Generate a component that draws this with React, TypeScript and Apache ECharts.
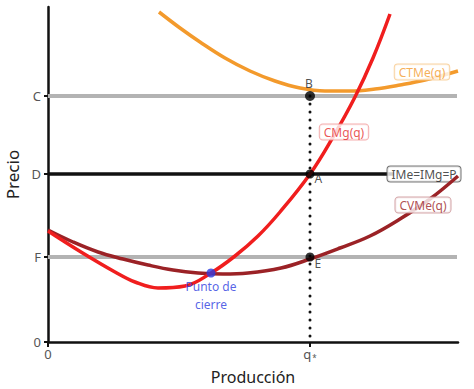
import React, { useEffect, useRef } from "react";
import * as echarts from "echarts";

// Data units: x = quantity (0..410), y = price (0..335)
const yTickValues = [0, 85, 168, 246];
const yTickLabels = ["0", "F", "D", "C"];
const xTickValues = [0, 262];
const xTickLabels = ["0", "{q|q}{s|*}"];

const priceC = 246;
const priceD = 168;
const priceF = 85;
const qStar = 262;

const cmgX = [0, 33, 67, 87, 110, 137, 163, 187, 210, 232, 262, 285, 307, 325, 342];
const cmgY = [111, 90, 70, 60, 54, 56, 69, 86, 106, 130, 168, 205, 245, 284, 328];

const cvmeX = [0, 25, 50, 75, 100, 125, 150, 175, 200, 233, 262, 292, 322, 352, 382, 410];
const cvmeY = [112, 100, 90, 83, 77, 72, 69, 68, 69, 74, 83, 94, 106, 123, 143, 166];

const ctmeX = [111, 132, 152, 177, 202, 227, 252, 277, 302, 327, 352, 377, 410];
const ctmeY = [330, 314, 300, 284, 271, 261, 254, 251, 251, 253, 257, 262, 271];

const shutdownPoint = [163, 69];
const xMax = 410;
const yMax = 335;

const zip = (xs: number[], ys: number[]) => xs.map((x, i) => [x, ys[i]]);

const FONT = "Noto Sans";

function boxLabel(text: string, color: string, border: string) {
  return {
    show: true,
    position: "inside",
    formatter: text,
    color,
    fontFamily: FONT,
    fontSize: 12,
    backgroundColor: "#fff",
    borderColor: border,
    borderWidth: 1,
    borderRadius: 3,
    padding: [2, 4, 1, 4],
  };
}

export default function App() {
  const ref = useRef<HTMLDivElement>(null);
  useEffect(() => {
    if (!ref.current) return;
    const chart = echarts.init(ref.current, null, { renderer: "svg" });
    const option: any = {
      animation: false,
      grid: { left: 48, right: 16, top: 7, bottom: 47, containLabel: false, outerBoundsMode: "none" },
      xAxis: {
        type: "value",
        min: 0,
        max: xMax,
        name: "Producción",
        nameLocation: "middle",
        nameGap: 27,
        nameTextStyle: { fontFamily: FONT, fontSize: 16, color: "#222" },
        axisLine: { show: true, lineStyle: { color: "#111", width: 2.5 } },
        axisTick: { show: true, customValues: xTickValues, length: 5, lineStyle: { color: "#111", width: 2 } },
        axisLabel: {
          customValues: xTickValues,
          formatter: (v: number) => xTickLabels[xTickValues.indexOf(v)] ?? "",
          color: "#555",
          fontFamily: FONT,
          fontSize: 13,
          margin: 5,
          rich: {
            q: { fontFamily: FONT, fontSize: 13, color: "#555" },
            s: { fontFamily: FONT, fontSize: 8, color: "#555", padding: [6, 0, 0, 1] },
          },
        },
        splitLine: { show: false },
      },
      yAxis: {
        type: "value",
        min: 0,
        max: yMax,
        name: "Precio",
        nameLocation: "middle",
        nameGap: 22,
        nameRotate: 90,
        nameTextStyle: { fontFamily: FONT, fontSize: 17, color: "#222" },
        axisLine: { show: true, lineStyle: { color: "#111", width: 2.5 } },
        axisTick: { show: true, customValues: yTickValues, length: 4, lineStyle: { color: "#111", width: 2 } },
        axisLabel: {
          customValues: yTickValues,
          formatter: (v: number) => yTickLabels[yTickValues.indexOf(v)] ?? "",
          color: "#555",
          fontFamily: FONT,
          fontSize: 13,
          margin: 7,
        },
        splitLine: { show: false },
      },
      series: [
        {
          type: "line",
          data: [[0, priceC], [xMax - 1, priceC]],
          symbol: "none",
          lineStyle: { color: "#b3b3b3", width: 4 },
          z: 1,
        },
        {
          type: "line",
          data: [[0, priceF], [xMax - 1, priceF]],
          symbol: "none",
          lineStyle: { color: "#b3b3b3", width: 4 },
          z: 1,
        },
        {
          type: "line",
          data: [[0, priceD], [346, priceD]],
          symbol: "none",
          lineStyle: { color: "#111", width: 3.5 },
          z: 2,
        },
        {
          type: "scatter",
          data: [[376, priceD]],
          symbolSize: 0,
          label: boxLabel("IMe=IMg=P", "#222", "#555"),
          z: 2,
        },
        {
          type: "line",
          data: [[qStar, priceC], [qStar, 0]],
          symbol: "none",
          lineStyle: { color: "#111", width: 3, type: [0, 8], cap: "round" },
          z: 2,
        },
        {
          type: "line",
          data: zip(ctmeX, ctmeY),
          smooth: 0.4,
          symbol: "none",
          lineStyle: { color: "#f39a2c", width: 3.5 },
          z: 3,
        },
        {
          type: "line",
          data: zip(cvmeX, cvmeY),
          smooth: 0.4,
          symbol: "none",
          lineStyle: { color: "#9b2226", width: 3.5 },
          z: 4,
        },
        {
          type: "line",
          data: zip(cmgX, cmgY),
          smooth: 0.4,
          symbol: "none",
          lineStyle: { color: "#f01e1e", width: 3.5 },
          z: 4,
        },
        {
          type: "scatter",
          data: [[374, 270]],
          symbolSize: 0,
          label: boxLabel("CTMe(q)", "#f39a2c", "#f7c88a"),
          z: 5,
        },
        {
          type: "scatter",
          data: [[296, 210]],
          symbolSize: 0,
          label: boxLabel("CMg(q)", "#e52b2b", "#f19a9a"),
          z: 5,
        },
        {
          type: "scatter",
          data: [[375, 137]],
          symbolSize: 0,
          label: boxLabel("CVMe(q)", "#9b2226", "#c98f92"),
          z: 5,
        },
        {
          type: "scatter",
          data: [[qStar, priceC]],
          symbolSize: 10,
          itemStyle: { color: "#000" },
          label: { show: true, formatter: "B", position: [0, -14], color: "#222", fontFamily: FONT, fontSize: 12 },
          z: 6,
        },
        {
          type: "scatter",
          data: [[qStar, priceD]],
          symbolSize: 9,
          itemStyle: { color: "#000" },
          label: { show: true, formatter: "A", position: [9, 3], color: "#222", fontFamily: FONT, fontSize: 12 },
          z: 6,
        },
        {
          type: "scatter",
          data: [[qStar, priceF]],
          symbolSize: 9,
          itemStyle: { color: "#000" },
          label: { show: true, formatter: "E", position: [9, 5], color: "#222", fontFamily: FONT, fontSize: 12 },
          z: 6,
        },
        {
          type: "scatter",
          data: [shutdownPoint],
          symbolSize: 9,
          itemStyle: { color: "#2b3be0" },
          label: {
            show: true,
            formatter: "Punto de\ncierre",
            position: "bottom",
            distance: 0,
            align: "center",
            lineHeight: 18,
            color: "#2b3be0",
            fontFamily: FONT,
            fontSize: 12,
          },
          z: 6,
        },
      ],
    };
    chart.setOption(option);
    return () => chart.dispose();
  }, []);
  return (
    <div
      ref={ref}
      style={{ position: "fixed", left: 0, top: 0, width: 474, height: 389, background: "#fff" }}
    />
  );
}
